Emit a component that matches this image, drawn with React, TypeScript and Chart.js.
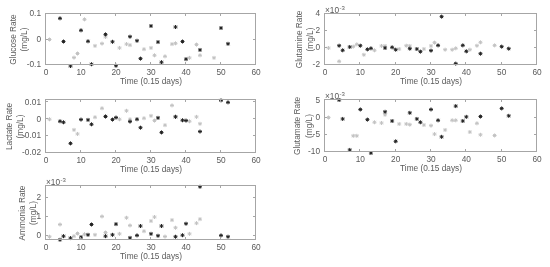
import React, { useEffect, useRef } from 'react';
import { Chart, registerables } from 'chart.js';
Chart.register(...registerables);

// ---- data ----
const darkX = [4, 5, 7, 10, 12, 13, 17, 19, 20, 24, 26, 27, 30, 32, 33, 37, 39, 40, 44, 50, 52];
const lightX = [1, 4, 8, 9, 11, 14, 16, 17, 21, 23, 24, 28, 30, 31, 34, 36, 37, 41, 43, 44, 48];

const xTicks = [0, 10, 20, 30, 40, 50, 60];
const xTickLabels = ['0', '10', '20', '30', '40', '50', '60'];

const glucoseDark = [0.083, -0.008, -0.104, 0.036, -0.007, -0.097, 0.02, -0.009, -0.103, 0.011, -0.005, -0.075, 0.053, -0.01, -0.089, 0.049, -0.008, -0.077, -0.041, 0.045, -0.017];
const glucoseLight = [0, null, -0.071, -0.055, 0.079, -0.025, -0.016, 0.01, -0.033, -0.018, -0.022, -0.038, -0.033, -0.062, -0.066, -0.018, -0.015, -0.072, -0.02, -0.062, -0.072];
const glucoseTicks = [-0.1, 0, 0.1];
const glucoseTickLabels = ['-0.1', '0', '0.1'];

const lactateDark = [-0.0012, -0.0018, -0.0143, -0.0002, -0.0004, -0.003, 0.0016, -0.0002, 0.001, -0.0014, 0, -0.005, null, 0.0008, -0.0078, 0.0014, -0.0006, -0.0008, -0.0073, 0.0112, 0.010];
const lactateLight = [0, null, -0.0063, -0.0087, null, 0.0012, 0.0065, 0.0018, 0, 0.005, 0, 0.0006, 0.002, -0.0008, -0.0035, 0.0082, 0.0017, -0.0012, 0.0014, -0.0027, null];
const lactateTicks = [-0.02, -0.01, 0, 0.01];
const lactateTickLabels = ['-0.02', '-0.01', '0', '0.01'];

// values in units of 10^-3 mg/L
const ammoniaDark = [-0.19, 0, -0.1, -0.05, 0.07, 0.61, 0, 0.07, 0.63, -0.09, 0.04, 0.53, 0.12, 0.02, 0.53, -0.03, 0.05, 0.65, 2.58, 0.04, -0.03];
const ammoniaLight = [-0.03, 0.61, 0, 0.14, 0.1, 0.07, 1.03, 0.19, 0.12, 0.96, 0.56, 0.26, 0.79, 1.0, -0.02, 0.84, 0.44, 0.12, 0.68, 0.89, null];
const ammoniaTicks = [0, 1, 2];
const ammoniaTickLabels = ['0', '1', '2'];

const glutamineDark = [0.27, -0.27, 0.12, 0.27, -0.16, -0.04, 0, 0.08, -0.2, -0.08, -0.12, -0.43, -0.31, 0.31, 3.69, -1.84, 0.31, -0.39, -0.67, 0.16, -0.08];
const glutamineLight = [0, -1.57, 0.16, 0.43, -0.8, -0.27, 0.24, 0.24, -0.12, 0.27, 0.24, -0.12, 0.24, 0.63, -0.2, -0.2, -0.04, -0.2, 0.27, 0.67, 0.31];
const glutamineTicks = [-2, 0, 2, 4];
const glutamineTickLabels = ['-2', '0', '2', '4'];

const glutamateDark = [5.1, -0.4, -9.4, 2.35, -0.6, -10.3, 1.67, -1.0, -6.9, 1.37, -0.4, -1.37, 2.35, -0.8, -5.6, 3.33, -1.0, 0.2, 0.3, 2.65, 0.5];
const glutamateLight = [0, null, -5.3, -5.3, null, -1.37, -1.57, 0.8, -1.86, -1.86, -2.06, -2.16, -2.35, -4.8, -3.6, -0.8, -0.8, -4.2, -1.67, -5.0, -5.2];
const glutamateTicks = [-10, -5, 0, 5];
const glutamateTickLabels = ['-10', '-5', '0', '5'];

const xTitle = 'Time (0.15 days)';

// ---- styling / layout ----
const FONT = '"Liberation Sans", Arial, Helvetica, sans-serif';
const FS = 8.3;
const TEXT = '#5a5a5a';
const BOX = '#a6a6a6';
const DARK = '#222222';
const LIGHT = '#c2c2c2';
const AXW = 46;
const AXH = 28;
const PADT = 12;
const PADR = 12;

type PanelDef = {
  title: string[];
  dark: (number | null)[];
  light: (number | null)[];
  yMin: number;
  yMax: number;
  ticks: number[];
  labels: string[];
  exp: boolean;
  box: [number, number, number, number];
  titlePad: number;
};

const panels: PanelDef[] = [
  { title: ['Glucose Rate', '(mg/L)'], dark: glucoseDark, light: glucoseLight, yMin: -0.1, yMax: 0.1, ticks: glucoseTicks, labels: glucoseTickLabels, exp: false, box: [46, 14, 256, 65], titlePad: 7.8 },
  { title: ['Lactate Rate', '(mg/L)'], dark: lactateDark, light: lactateLight, yMin: -0.02, yMax: 0.0114, ticks: lactateTicks, labels: lactateTickLabels, exp: false, box: [46, 100, 256, 153], titlePad: 3.8 },
  { title: ['Ammonia Rate', '(mg/L)'], dark: ammoniaDark, light: ammoniaLight, yMin: -0.2, yMax: 2.62, ticks: ammoniaTicks, labels: ammoniaTickLabels, exp: true, box: [46, 186, 256, 240], titlePad: 16.8 },
  { title: ['Glutamine Rate', '(mg/L)'], dark: glutamineDark, light: glutamineLight, yMin: -2, yMax: 4, ticks: glutamineTicks, labels: glutamineTickLabels, exp: true, box: [325, 14, 537, 65], titlePad: 14.5 },
  { title: ['Glutamate Rate', '(mg/L)'], dark: glutamateDark, light: glutamateLight, yMin: -10, yMax: 5.1, ticks: glutamateTicks, labels: glutamateTickLabels, exp: true, box: [325, 100, 537, 152], titlePad: 13.2 },
];

function boxPlugin(exp: boolean, yTicks: number[]) {
  return {
    id: 'matlabBox',
    afterDraw(chart: any) {
      const { ctx, chartArea } = chart;
      const { left, top, right, bottom } = chartArea;
      const xs = chart.scales.x;
      const ys = chart.scales.y;
      ctx.save();
      ctx.strokeStyle = BOX;
      ctx.lineWidth = 1;
      const L = Math.round(left) - 0.5;
      const R = Math.round(right) - 0.5;
      const T = Math.round(top) - 0.5;
      const B = Math.round(bottom) - 0.5;
      ctx.strokeRect(L, T, R - L, B - T);
      ctx.beginPath();
      const TL = 2.5;
      xTicks.forEach((v) => {
        const px = Math.round(xs.getPixelForValue(v)) - 0.5;
        ctx.moveTo(px, B);
        ctx.lineTo(px, B - TL);
        ctx.moveTo(px, T);
        ctx.lineTo(px, T + TL);
      });
      yTicks.forEach((v) => {
        const py = Math.round(ys.getPixelForValue(v)) - 0.5;
        ctx.moveTo(L, py);
        ctx.lineTo(L + TL, py);
        ctx.moveTo(R, py);
        ctx.lineTo(R - TL, py);
      });
      ctx.stroke();
      if (exp) {
        ctx.fillStyle = TEXT;
        ctx.textAlign = 'left';
        ctx.textBaseline = 'alphabetic';
        ctx.font = `${FS}px ${FONT}`;
        const base = '\u00d710';
        ctx.fillText(base, left, top - 1);
        const w = ctx.measureText(base).width;
        ctx.font = `6px ${FONT}`;
        ctx.fillText('-3', left + w + 0.5, top - 4.5);
      }
      ctx.restore();
    },
  };
}

function Panel({ p }: { p: PanelDef }) {
  const ref = useRef<HTMLCanvasElement>(null);
  const W = p.box[2] - p.box[0] + AXW + PADR;
  const H = p.box[3] - p.box[1] + PADT + AXH;
  useEffect(() => {
    const toPts = (xs: number[], ys: (number | null)[]) =>
      xs.map((x, i) => ({ x, y: ys[i] })).filter((d) => d.y !== null) as { x: number; y: number }[];
    const chart = new Chart(ref.current as HTMLCanvasElement, {
      type: 'scatter',
      data: {
        datasets: [
          {
            data: toPts(darkX, p.dark),
            pointStyle: 'star',
            pointRadius: 2,
            borderColor: DARK,
            backgroundColor: DARK,
            borderWidth: 1,
            clip: false as any,
          },
          {
            data: toPts(lightX, p.light),
            pointStyle: 'star',
            pointRadius: 2,
            borderColor: LIGHT,
            backgroundColor: LIGHT,
            borderWidth: 1,
            clip: false as any,
          },
        ],
      },
      options: {
        responsive: false,
        animation: false,
        devicePixelRatio: 1,
        layout: { padding: { top: PADT, right: PADR, left: 0, bottom: 0 } },
        plugins: { legend: { display: false }, tooltip: { enabled: false } },
        font: { family: FONT, size: FS },
        scales: {
          x: {
            type: 'linear',
            min: 0,
            max: 60,
            grid: { display: false, drawTicks: false },
            border: { display: false },
            afterBuildTicks: (s: any) => {
              s.ticks = xTicks.map((v) => ({ value: v }));
            },
            afterFit: (s: any) => {
              s.height = AXH;
            },
            ticks: {
              padding: 3,
              maxRotation: 0,
              autoSkip: false,
              color: TEXT,
              font: { family: FONT, size: FS },
              callback: (_v: any, i: number) => xTickLabels[i],
            },
            title: {
              display: true,
              text: xTitle,
              color: TEXT,
              font: { family: FONT, size: FS },
              padding: { top: 0, bottom: 6 },
            },
          },
          y: {
            type: 'linear',
            min: p.yMin,
            max: p.yMax,
            grid: { display: false, drawTicks: false },
            border: { display: false },
            afterBuildTicks: (s: any) => {
              s.ticks = p.ticks.map((v) => ({ value: v }));
            },
            afterFit: (s: any) => {
              s.width = AXW;
            },
            ticks: {
              padding: 5,
              autoSkip: false,
              color: TEXT,
              font: { family: FONT, size: FS },
              callback: (_v: any, i: number) => p.labels[i],
            },
            title: {
              display: true,
              text: p.title,
              color: TEXT,
              font: { family: FONT, size: FS, lineHeight: 1.39 },
              padding: { top: p.titlePad, bottom: 0 },
            },
          },
        },
      } as any,
      plugins: [boxPlugin(p.exp, p.ticks)],
    });
    return () => chart.destroy();
  }, []);
  return (
    <canvas
      ref={ref}
      width={W}
      height={H}
      style={{ position: 'absolute', left: p.box[0] - AXW, top: p.box[1] - PADT, width: W, height: H }}
    />
  );
}

export default function App() {
  return (
    <div style={{ position: 'absolute', left: 0, top: 0, width: 550, height: 267, background: '#fff' }}>
      {panels.map((p, i) => (
        <Panel key={i} p={p} />
      ))}
    </div>
  );
}
